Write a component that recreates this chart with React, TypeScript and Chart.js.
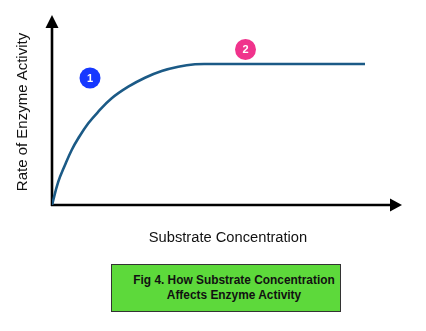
import React, { useEffect, useRef } from 'react';
import { Chart, registerables } from 'chart.js';
Chart.register(...registerables);

const curveX = [0, 0.63, 1.3, 1.97, 2.63, 3.63, 4.63, 5.97, 7.63, 9.3, 10.97, 12.63, 14.3, 15.8, 31.3];
const curveY = [0, 2.33, 4.0, 5.5, 6.67, 8.17, 9.33, 10.67, 11.83, 12.73, 13.4, 13.83, 14.07, 14.1, 14.1];
const markerX = [3.8, 19.35];
const markerY = [12.7, 15.55];
const markerLabels = ['1', '2'];
const markerColors = ['#1638ff', '#f0338c'];
const xTitle = 'Substrate Concentration';
const yTitle = 'Rate of Enzyme Activity';
const captionLines = ['Fig 4. How Substrate Concentration', 'Affects Enzyme Activity'];

const FONT = '"Liberation Sans", Arial, Helvetica, sans-serif';

const decorPlugin = {
  id: 'decor',
  beforeDatasetsDraw(chart: any) {
    const { ctx, chartArea } = chart;
    const { left, right, top, bottom } = chartArea;
    ctx.save();
    ctx.strokeStyle = '#000';
    ctx.fillStyle = '#000';
    ctx.lineWidth = 2.6;
    // y axis
    ctx.beginPath();
    ctx.moveTo(left, bottom + 1);
    ctx.lineTo(left, top + 12);
    ctx.stroke();
    ctx.beginPath();
    ctx.moveTo(left, top);
    ctx.lineTo(left - 6.5, top + 13);
    ctx.lineTo(left + 6.5, top + 13);
    ctx.closePath();
    ctx.fill();
    // x axis
    ctx.beginPath();
    ctx.moveTo(left - 1, bottom);
    ctx.lineTo(right - 11, bottom);
    ctx.stroke();
    ctx.beginPath();
    ctx.moveTo(right, bottom);
    ctx.lineTo(right - 12, bottom - 6.5);
    ctx.lineTo(right - 12, bottom + 6.5);
    ctx.closePath();
    ctx.fill();
    // titles
    ctx.fillStyle = '#111';
    ctx.textAlign = 'center';
    ctx.textBaseline = 'middle';
    ctx.font = `14.7px ${FONT}`;
    ctx.fillText(xTitle, 228, 238);
    ctx.save();
    ctx.translate(23, 112);
    ctx.rotate(-Math.PI / 2);
    ctx.font = `15px ${FONT}`;
    ctx.fillText(yTitle, 0, 0);
    ctx.restore();
    ctx.restore();
  },
  afterDatasetsDraw(chart: any) {
    const { ctx } = chart;
    const meta = chart.getDatasetMeta(1);
    ctx.save();
    ctx.fillStyle = '#fff';
    ctx.textAlign = 'center';
    ctx.textBaseline = 'middle';
    ctx.font = `bold 11px ${FONT}`;
    meta.data.forEach((pt: any, i: number) => {
      ctx.fillText(markerLabels[i], pt.x, pt.y + 0.5);
    });
    ctx.restore();
  },
};

export default function App() {
  const ref = useRef<HTMLCanvasElement>(null);
  useEffect(() => {
    if (!ref.current) return;
    const chart = new Chart(ref.current, {
      type: 'line',
      data: {
        datasets: [
          {
            data: curveX.map((x, i) => ({ x, y: curveY[i] })),
            borderColor: '#1b5a86',
            borderWidth: 2.6,
            pointRadius: 0,
            tension: 0.4,
            fill: false,
          },
          {
            data: markerX.map((x, i) => ({ x, y: markerY[i] })),
            showLine: false,
            pointRadius: 10.5,
            pointBackgroundColor: markerColors,
            pointBorderWidth: 0,
            borderWidth: 0,
          },
        ],
      } as any,
      options: {
        animation: false,
        responsive: false,
        maintainAspectRatio: false,
        layout: { padding: { left: 52, right: 24, top: 15, bottom: 126 } },
        scales: {
          x: { type: 'linear', min: 0, max: 35, display: false },
          y: { type: 'linear', min: 0, max: 19, display: false },
        },
        plugins: { legend: { display: false }, tooltip: { enabled: false } },
      } as any,
      plugins: [decorPlugin],
    });
    return () => chart.destroy();
  }, []);

  return (
    <div style={{ position: 'fixed', left: 0, top: 0, width: 426, height: 331, background: '#fff' }}>
      <canvas ref={ref} width={426} height={331} style={{ position: 'absolute', left: 0, top: 0 }} />
      <div
        style={{
          position: 'absolute',
          left: 111,
          top: 264,
          width: 230,
          height: 48,
          boxSizing: 'border-box',
          paddingLeft: 16,
          background: '#5dd93b',
          border: '1.5px solid #333',
          display: 'flex',
          flexDirection: 'column',
          alignItems: 'center',
          justifyContent: 'center',
          fontFamily: FONT,
          fontWeight: 'bold',
          fontSize: 11.9,
          lineHeight: '15px',
          color: '#111',
          textAlign: 'center',
        }}
      >
        {captionLines.map((l) => (
          <div key={l} style={{ whiteSpace: 'nowrap' }}>{l}</div>
        ))}
      </div>
    </div>
  );
}
